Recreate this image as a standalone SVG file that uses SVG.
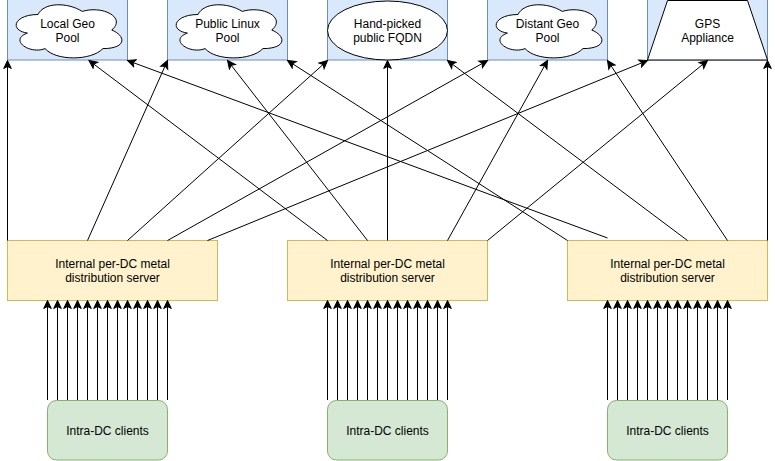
<svg xmlns="http://www.w3.org/2000/svg" xmlns:xlink="http://www.w3.org/1999/xlink" width="775" height="461" viewBox="0 0 775 461">
  <style>
    .top { fill: #dae8fc; stroke: #6c8ebf; stroke-width: 1; }
    .mid { fill: #fff2cc; stroke: #d6b656; stroke-width: 1; }
    .cli { fill: #d5e8d4; stroke: #82b366; stroke-width: 1; }
    .shape { fill: #ffffff; stroke: #000000; stroke-width: 1; }
    .lbl { font-family: "Liberation Sans", Arial, Helvetica, sans-serif; font-size: 12px; fill: #000000; text-anchor: middle; }
    .edge { fill: none; stroke: #000000; stroke-width: 1; marker-end: url(#arr); }
  </style>
  <defs>
    <marker id="arr" markerUnits="userSpaceOnUse" markerWidth="10" markerHeight="10" viewBox="0 0 10 10" refX="9" refY="5" orient="auto">
      <path d="M9,5 L1,1.2 L3,5 L1,8.8 Z" fill="#000" stroke="#000" stroke-width="1"/>
    </marker>
    <path id="cloud" d="M29.5,15.5 C5.9,15.5 0,31 18.88,34.1 C0,40.92 21.24,55.8 36.58,49.6 C47.2,62 82.6,62 94.4,49.6 C118,49.6 118,37.2 103.25,31 C118,18.6 94.4,6.2 73.75,12.4 C59,3.1 35.4,3.1 29.5,15.5 Z"/>
  </defs>
  <rect width="775" height="461" fill="#ffffff"/>

  <g id="local-geo">
    <rect class="top" x="7.5" y="-0.5" width="120" height="60.5"/>
    <use xlink:href="#cloud" class="shape" transform="translate(8.5,-1)"/>
    <text class="lbl" x="67.5" y="27.5">Local Geo</text>
    <text class="lbl" x="67.5" y="41.5">Pool</text>
  </g>
  <g id="public-linux">
    <rect class="top" x="167.5" y="-0.5" width="120" height="60.5"/>
    <use xlink:href="#cloud" class="shape" transform="translate(168.5,-1)"/>
    <text class="lbl" x="227.5" y="27.5">Public Linux</text>
    <text class="lbl" x="227.5" y="41.5">Pool</text>
  </g>
  <g id="hand-picked">
    <rect class="top" x="327.5" y="-0.5" width="120" height="60.5"/>
    <ellipse class="shape" cx="387.5" cy="30.5" rx="60" ry="29.5"/>
    <text class="lbl" x="387.5" y="27.5">Hand-picked</text>
    <text class="lbl" x="387.5" y="41.5">public FQDN</text>
  </g>
  <g id="distant-geo">
    <rect class="top" x="487.5" y="-0.5" width="120" height="60.5"/>
    <use xlink:href="#cloud" class="shape" transform="translate(488.5,-1)"/>
    <text class="lbl" x="547.5" y="27.5">Distant Geo</text>
    <text class="lbl" x="547.5" y="41.5">Pool</text>
  </g>
  <g id="gps">
    <rect class="top" x="647.5" y="-0.5" width="120" height="60.5"/>
    <polygon class="shape" points="647.5,60 667.5,0.5 747.5,0.5 767.5,60"/>
    <text class="lbl" x="707.5" y="27.5">GPS</text>
    <text class="lbl" x="707.5" y="41.5">Appliance</text>
  </g>

  <g id="server-1">
    <rect class="mid" x="7.5" y="240.5" width="210" height="60"/>
    <text class="lbl" x="112.5" y="267.5">Internal per-DC metal</text>
    <text class="lbl" x="112.5" y="281.5">distribution server</text>
  </g>
  <g id="server-2">
    <rect class="mid" x="287.5" y="240.5" width="200" height="60"/>
    <text class="lbl" x="387.5" y="267.5">Internal per-DC metal</text>
    <text class="lbl" x="387.5" y="281.5">distribution server</text>
  </g>
  <g id="server-3">
    <rect class="mid" x="567.5" y="240.5" width="200" height="60"/>
    <text class="lbl" x="667.5" y="267.5">Internal per-DC metal</text>
    <text class="lbl" x="667.5" y="281.5">distribution server</text>
  </g>

  <g id="clients-1">
    <rect class="cli" x="47.5" y="400.5" width="120" height="59.5" rx="9" ry="9"/>
    <text class="lbl" x="107.5" y="434.5">Intra-DC clients</text>
  </g>
  <g id="clients-2">
    <rect class="cli" x="327.5" y="400.5" width="120" height="59.5" rx="9" ry="9"/>
    <text class="lbl" x="387.5" y="434.5">Intra-DC clients</text>
  </g>
  <g id="clients-3">
    <rect class="cli" x="607.5" y="400.5" width="120" height="59.5" rx="9" ry="9"/>
    <text class="lbl" x="667.5" y="434.5">Intra-DC clients</text>
  </g>

  <g id="connectors">
    <!-- server 1 -->
    <path class="edge" d="M7.5,240.5 L7.5,60.5"/>
    <path class="edge" d="M87.5,240.5 L167.5,60.5"/>
    <path class="edge" d="M127.5,240.5 L327.5,60.5"/>
    <path class="edge" d="M167.5,240.5 L487.5,60.5"/>
    <path class="edge" d="M207.5,240.5 L647.5,60.5"/>
    <!-- server 2 -->
    <path class="edge" d="M327.5,240.5 L89,60.5"/>
    <path class="edge" d="M367.5,240.5 L227.5,60.5"/>
    <path class="edge" d="M387.5,240.5 L387.5,60.5"/>
    <path class="edge" d="M447.5,240.5 L547.5,60.5"/>
    <path class="edge" d="M487.5,240.5 L707.5,60.5"/>
    <!-- server 3 -->
    <path class="edge" d="M567.5,240.5 L287.5,60.5"/>
    <path class="edge" d="M607.5,238 L127.5,60.5"/>
    <path class="edge" d="M687.5,240.5 L447.5,60.5"/>
    <path class="edge" d="M727.5,240.5 L607.5,60.5"/>
    <path class="edge" d="M767.5,240.5 L767.5,60.5"/>
    <!-- clients 1 -->
    <path class="edge" d="M47.5,400 V300.5"/>
    <path class="edge" d="M57.5,400 V300.5"/>
    <path class="edge" d="M67.5,400 V300.5"/>
    <path class="edge" d="M77.5,400 V300.5"/>
    <path class="edge" d="M87.5,400 V300.5"/>
    <path class="edge" d="M97.5,400 V300.5"/>
    <path class="edge" d="M107.5,400 V300.5"/>
    <path class="edge" d="M117.5,400 V300.5"/>
    <path class="edge" d="M127.5,400 V300.5"/>
    <path class="edge" d="M137.5,400 V300.5"/>
    <path class="edge" d="M147.5,400 V300.5"/>
    <path class="edge" d="M157.5,400 V300.5"/>
    <path class="edge" d="M167.5,400 V300.5"/>
    <!-- clients 2 -->
    <path class="edge" d="M327.5,400 V300.5"/>
    <path class="edge" d="M337.5,400 V300.5"/>
    <path class="edge" d="M347.5,400 V300.5"/>
    <path class="edge" d="M357.5,400 V300.5"/>
    <path class="edge" d="M367.5,400 V300.5"/>
    <path class="edge" d="M377.5,400 V300.5"/>
    <path class="edge" d="M387.5,400 V300.5"/>
    <path class="edge" d="M397.5,400 V300.5"/>
    <path class="edge" d="M407.5,400 V300.5"/>
    <path class="edge" d="M417.5,400 V300.5"/>
    <path class="edge" d="M427.5,400 V300.5"/>
    <path class="edge" d="M437.5,400 V300.5"/>
    <path class="edge" d="M447.5,400 V300.5"/>
    <!-- clients 3 -->
    <path class="edge" d="M607.5,400 V300.5"/>
    <path class="edge" d="M617.5,400 V300.5"/>
    <path class="edge" d="M627.5,400 V300.5"/>
    <path class="edge" d="M637.5,400 V300.5"/>
    <path class="edge" d="M647.5,400 V300.5"/>
    <path class="edge" d="M657.5,400 V300.5"/>
    <path class="edge" d="M667.5,400 V300.5"/>
    <path class="edge" d="M677.5,400 V300.5"/>
    <path class="edge" d="M687.5,400 V300.5"/>
    <path class="edge" d="M697.5,400 V300.5"/>
    <path class="edge" d="M707.5,400 V300.5"/>
    <path class="edge" d="M717.5,400 V300.5"/>
    <path class="edge" d="M727.5,400 V300.5"/>
  </g>
</svg>
